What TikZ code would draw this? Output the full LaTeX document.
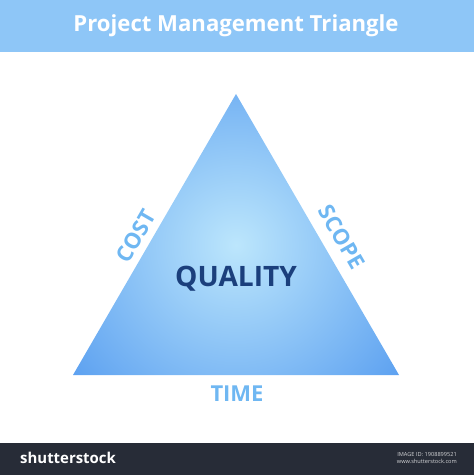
\documentclass[tikz,border=0pt]{standalone}
\usepackage{fontspec}
\setmainfont{Open Sans}
\definecolor{barblue}{HTML}{8EC6F7}
\definecolor{lblblue}{HTML}{6FB7F2}
\definecolor{navy}{HTML}{1B3F7C}
\definecolor{footgray}{HTML}{272C37}
\definecolor{triin}{HTML}{BCE6FC}
\definecolor{triout}{HTML}{5A9FF0}

\begin{document}
\begin{tikzpicture}[x=0.02cm,y=-0.02cm,
  side/.style={text=lblblue,font=\bfseries\fontsize{12.5}{14}\selectfont}]
\useasboundingbox (0,0) rectangle (474,475);
% title bar
\fill[barblue] (0,0) rectangle (474,52);
\node[text=white,font=\bfseries\fontsize{12.6}{14}\selectfont] (title) at (236,26) {Project Management Triangle};
% triangle
\coordinate (top) at (236,94);
\coordinate (left) at (73,375);
\coordinate (right) at (399,375);
\begin{scope}
\clip (top) -- (left) -- (right) -- cycle;
\shade[inner color=triin,outer color=triout] (236,245) circle (215);
\end{scope}
\node[text=navy,font=\bfseries\fontsize{16}{18}\selectfont] (quality) at (236,279) {QUALITY};
\node[side,rotate=60] (cost) at (136,236) {COST};
\node[side,rotate=-60] (scope) at (342,237) {SCOPE};
\node[side] (time) at (237,394) {TIME};
% footer
\fill[footgray] (0,443) rectangle (474,475);
\node[anchor=west,text=white,font=\bfseries\fontsize{8.5}{10}\selectfont] (brand) at (14,458) {shutterstock};
\node[anchor=east,text=white!80!footgray,font=\fontsize{3.2}{4}\selectfont,align=right] (imgid) at (463,458) {IMAGE ID: 1908899521\\www.shutterstock.com};
\end{tikzpicture}
\end{document}
